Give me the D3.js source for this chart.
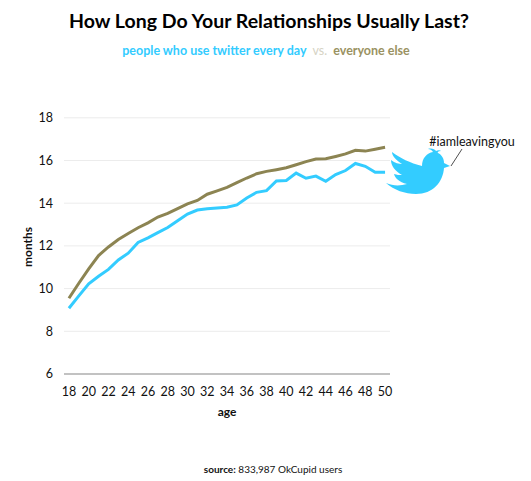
<!DOCTYPE html>
<html>
<head>
<meta charset="utf-8">
<script src="https://cdn.jsdelivr.net/npm/d3@7"></script>
<style>
  body { margin: 0; background: #fff; }
  text { font-family: Lato, "Open Sans", sans-serif; }
</style>
</head>
<body>
<div id="chart"></div>
<script>
// ages on the category axis
var ages = d3.range(18, 51);
// average relationship length in months
var everyoneElse = [9.55,10.25,10.92,11.55,11.95,12.3,12.58,12.85,13.08,13.35,13.52,13.75,13.97,14.13,14.42,14.58,14.74,14.96,15.18,15.38,15.49,15.57,15.66,15.8,15.95,16.07,16.08,16.19,16.31,16.48,16.44,16.53,16.62];
var twitterDaily = [9.08,9.66,10.22,10.58,10.9,11.34,11.66,12.16,12.38,12.62,12.86,13.18,13.49,13.68,13.74,13.78,13.81,13.92,14.24,14.51,14.59,15.04,15.06,15.41,15.17,15.27,15.03,15.34,15.53,15.86,15.73,15.45,15.45];
var yTicks = [6, 8, 10, 12, 14, 16, 18];
var xTickLabels = [18,20,22,24,26,28,30,32,34,36,38,40,42,44,46,48,50];

var blue = "#33ccff", olive = "#8c8452";

var svg = d3.select("#chart")
  .append("svg")
    .attr("width", 531)
    .attr("height", 481);

var x = d3.scalePoint()
    .domain(ages)
    .range([64, 390])
    .padding(0.5);

var y = d3.scaleLinear()
    .domain([6, 18])
    .range([374, 117.8]);

// gridlines
svg.append("g")
  .selectAll("line")
  .data(yTicks.slice(1))
  .enter()
  .append("line")
    .attr("x1", 64).attr("x2", 390)
    .attr("y1", function (d) { return y(d); })
    .attr("y2", function (d) { return y(d); })
    .style("stroke", "#ececec")
    .style("stroke-width", 1);

// y tick labels
svg.append("g")
  .selectAll("text")
  .data(yTicks)
  .enter()
  .append("text")
    .attr("x", 53)
    .attr("y", function (d) { return y(d); })
    .attr("dy", "0.35em")
    .attr("text-anchor", "end")
    .style("font-size", "12.5px")
    .style("fill", "#111")
    .text(function (d) { return d; });

// x axis line
svg.append("line")
  .attr("x1", 64).attr("x2", 390)
  .attr("y1", y(6)).attr("y2", y(6))
  .style("stroke", "#868686")
  .style("stroke-width", 1.2);

// x tick labels
svg.append("g")
  .selectAll("text")
  .data(xTickLabels)
  .enter()
  .append("text")
    .attr("x", function (d) { return x(d); })
    .attr("y", 392)
    .attr("dy", "0.35em")
    .attr("text-anchor", "middle")
    .style("font-size", "12.5px")
    .style("fill", "#111")
    .text(function (d) { return d; });

// lines
var line = d3.line()
  .x(function (d, i) { return x(ages[i]); })
  .y(function (d) { return y(d); });

svg.append("path")
  .datum(everyoneElse)
  .attr("d", line)
  .style("fill", "none")
  .style("stroke", olive)
  .style("stroke-width", 3);

svg.append("path")
  .datum(twitterDaily)
  .attr("d", line)
  .style("fill", "none")
  .style("stroke", blue)
  .style("stroke-width", 3);

// twitter bird
svg.append("path")
  .attr("transform", "translate(386,149)")
  .attr("d", "M64,17 L58,19 C57,33 47,45 30,45 C19,45 8,41 0,34 C7,37 14,37 21,35 C13,33 9,29 8,25 C11,26 13,26 16,26 C9,22 5,17 5,11 C9,14 13,15 16,15 C10,11 6,7 6,3 C14,9 24,14 36,17 C36,9 41,4 47,3 C46,1 44,0 42,0 C45,-1 49,0 50,2 C52,1 54,1 55,2 C52,2 51,3 52,4 C56,6 58,10 58,14 Z")
  .style("fill", blue);

// annotation
svg.append("line")
  .attr("x1", 451).attr("y1", 166)
  .attr("x2", 462).attr("y2", 149)
  .style("stroke", "#222")
  .style("stroke-width", 0.8);
svg.append("text")
  .attr("x", 472).attr("y", 146)
  .attr("text-anchor", "middle")
  .style("font-size", "12.5px")
  .style("fill", "#111")
  .text("#iamleavingyou");

// axis titles
svg.append("text")
  .attr("transform", "translate(32,247) rotate(-90)")
  .attr("text-anchor", "middle")
  .style("font-size", "12px")
  .style("font-weight", "bold")
  .style("fill", "#111")
  .text("months");
svg.append("text")
  .attr("x", 227).attr("y", 416)
  .attr("text-anchor", "middle")
  .style("font-size", "12px")
  .style("font-weight", "bold")
  .style("fill", "#111")
  .text("age");

// title and subtitle
svg.append("text")
  .attr("x", 269).attr("y", 28)
  .attr("text-anchor", "middle")
  .style("font-size", "19.5px")
  .style("font-weight", "bold")
  .style("fill", "#000")
  .text("How Long Do Your Relationships Usually Last?");

var sub = svg.append("text")
  .attr("x", 266).attr("y", 55)
  .attr("text-anchor", "middle")
  .style("font-size", "12.5px")
  .style("font-weight", "bold");
sub.append("tspan").style("fill", blue).text("people who use twitter every day");
sub.append("tspan").style("fill", "#d6d3c4").style("font-weight", "normal").attr("dx", 6).text("vs.");
sub.append("tspan").style("fill", "#9a9262").attr("dx", 6).text("everyone else");

// source
var src = svg.append("text")
  .attr("x", 273).attr("y", 473)
  .attr("text-anchor", "middle")
  .style("font-size", "10px")
  .style("fill", "#111");
src.append("tspan").style("font-weight", "bold").text("source:");
src.append("tspan").text(" 833,987 OkCupid users");
</script>
</body>
</html>
